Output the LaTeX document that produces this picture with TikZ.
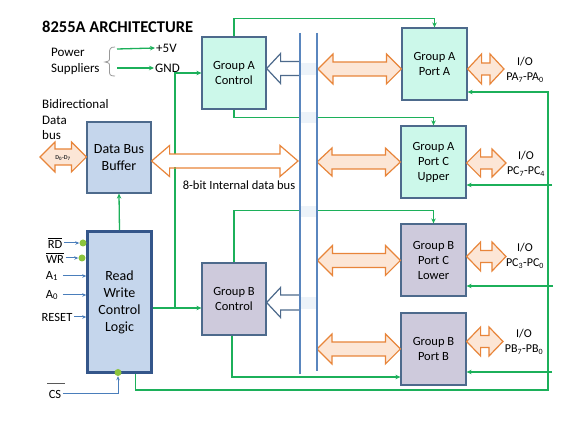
\documentclass[tikz,border=0pt]{standalone}
\usepackage{fontspec}
\setmainfont{Carlito}
\usetikzlibrary{arrows.meta,calc}
\definecolor{gline}{HTML}{1CB05A}
\definecolor{boxline}{HTML}{4D6A8C}
\definecolor{rwline}{HTML}{34568A}
\definecolor{mint}{HTML}{CCF8EA}
\definecolor{lav}{HTML}{CECADC}
\definecolor{dbbfill}{HTML}{C5D6EC}
\definecolor{orng}{HTML}{E8853A}
\definecolor{orfill}{HTML}{FCE6D6}
\definecolor{busline}{HTML}{5A86BE}
\definecolor{inarrow}{HTML}{4A7EBB}
\definecolor{dotc}{HTML}{8CC43C}
\definecolor{patch}{HTML}{EDF3F9}
\newcommand\fatdouble[6]{% A B headlen headhalf shafthalf style
\path[#6] (#1) -- ($(#1)+(#3,-#4)$) -- ($(#1)+(#3,-#5)$) -- ($(#2)+(-#3,-#5)$) -- ($(#2)+(-#3,-#4)$) -- (#2) -- ($(#2)+(-#3,#4)$) -- ($(#2)+(-#3,#5)$) -- ($(#1)+(#3,#5)$) -- ($(#1)+(#3,#4)$) -- cycle;}
\tikzset{
  box/.style={draw=boxline, line width=1.2pt, align=center, inner sep=0pt,
    font=\fontsize{12.5}{15}\selectfont},
  bigtext/.style={font=\fontsize{14}{17}\selectfont},
  gl/.style={draw=gline, line width=1.3pt},
  garr/.style={gl, -{Stealth[length=5pt,width=4.5pt]}},
  barr/.style={draw=inarrow, line width=1pt, -{Stealth[length=4pt,width=3.5pt]}},
  fatar/.style={draw=orng, fill=orfill, line width=1.2pt, line join=miter},
  hollow/.style={draw=boxline, fill=white, line width=1.2pt, line join=miter},
  lbl/.style={inner sep=1.5pt, font=\fontsize{12.5}{15}\selectfont, align=center},
  dotn/.style={circle, fill=dotc, inner sep=0pt, minimum size=7pt},
  busl/.style={draw=busline, line width=1.4pt}
}
\begin{document}
\begin{tikzpicture}[x=1pt,y=-1pt]
\useasboundingbox (0,0) rectangle (582,422);
\fill[white] (0,0) rectangle (582,422);

% title and labels
\node[anchor=west, inner sep=0pt, font=\bfseries\fontsize{16.5}{18}\selectfont] (title) at (42,27) {8255A ARCHITECTURE};
\node[anchor=west, inner sep=0pt, align=left, font=\fontsize{13}{16}\selectfont] (ps) at (51,61) {Power\\Suppliers};
\node[anchor=west, inner sep=1pt, font=\fontsize{13}{15}\selectfont] (v5) at (155,48) {+5V};
\node[anchor=west, inner sep=1pt, font=\fontsize{13}{15}\selectfont] (gnd) at (154,68) {GND};
\node[anchor=west, inner sep=0pt, align=left, font=\fontsize{13}{15.5}\selectfont] (bid) at (42,120) {Bidirectional\\Data\\bus};
\node[lbl] (ibus) at (239,185) {8-bit Internal data bus};

% brace
\draw[draw=gray!80, line width=0.8pt] (115,47) .. controls (110,47) and (109.5,49) .. (109.5,53) -- (109.5,57) .. controls (109.5,61) .. (105,62) .. controls (109.5,63) .. (109.5,67) -- (109.5,71) .. controls (109.5,75) and (110,76) .. (115,76);

% boxes
\node[box, fill=mint, minimum width=64pt, minimum height=72pt] (gac) at (234,73) {Group A\\Control};
\node[box, bigtext, fill=dbbfill, minimum width=64pt, minimum height=71pt] (dbb) at (119,157.5) {Data Bus\\Buffer};
\node[box, bigtext, fill=dbbfill, draw=rwline, line width=2.6pt, minimum width=64pt, minimum height=141pt] (rw) at (119.5,302) {Read\\Write\\Control\\Logic};
\node[box, fill=lav, minimum width=64pt, minimum height=72pt] (gbc) at (234,299) {Group B\\Control};
\node[box, fill=mint, minimum width=65pt, minimum height=72pt] (pa) at (434.5,64) {Group A\\Port A};
\node[box, fill=mint, minimum width=65pt, minimum height=72pt] (pcu) at (433.5,162) {Group A\\Port C\\Upper};
\node[box, fill=lav, minimum width=65pt, minimum height=72pt] (pcl) at (433.5,260) {Group B\\Port C\\Lower};
\node[box, fill=lav, minimum width=65pt, minimum height=72pt] (pb) at (433.5,349) {Group B\\Port B};

% I/O labels
\node[lbl, font=\fontsize{12}{15}\selectfont] (ioa) at (525,69.5) {I/O\\PA\textsubscript{7}-PA\textsubscript{0}};
\node[lbl, font=\fontsize{12}{15}\selectfont] (iocu) at (526,164) {I/O\\PC\textsubscript{7}-PC\textsubscript{4}};
\node[lbl, font=\fontsize{12}{15}\selectfont] (iocl) at (525,256) {I/O\\PC\textsubscript{3}-PC\textsubscript{0}};
\node[lbl, font=\fontsize{12}{15}\selectfont] (iob) at (524,342) {I/O\\PB\textsubscript{7}-PB\textsubscript{0}};

% input labels
\node[lbl] (rd) at (55,243) {$\overline{\mbox{RD}}$};
\node[lbl] (wr) at (55,258) {$\overline{\mbox{WR}}$};
\node[lbl] (a1) at (52,276) {A\textsubscript{1}};
\node[lbl] (a0) at (52,295) {A\textsubscript{0}};
\node[lbl] (rst) at (57,317) {RESET};
\node[lbl] (cs) at (55,394) {CS};
\draw[draw=gray!70!black, line width=0.8pt] (47,383) -- (65,383);

% green connectors
\coordinate (p5) at (117,49);
\coordinate (pg) at (117,68);
\draw[garr] (p5) -- (v5.west);
\draw[garr] (pg) -- (gnd.west);
\draw[garr] (gac.north) -- ++(0,-18) -| (pa.north);
\draw[garr] (gac.south) -- ++(0,8) -| (pcu.north);
\draw[garr] (gbc.north) -- ++(0,-52) -| (pcl.north);
\draw[garr] ([xshift=-2pt]gbc.south) |- ([yshift=-28pt]pb.west);
\coordinate (j) at (175,308);
\draw[garr] (rw.east |- j) -- (gbc.west |- j);
\draw[garr] (j) |- (gac.west);
\draw[garr] (rw.north) -- (dbb.south);
\coordinate (loopR) at (548,390);
\draw[garr] ([xshift=16pt]rw.south) |- (loopR) |- ([yshift=-28pt]pa.east);
\coordinate (bC) at (552,185);
\coordinate (bL) at (553,286);
\coordinate (bB) at (552,372);
\draw[garr] (bC) -- (pcu.east |- bC);
\draw[garr] (bL) -- (pcl.east |- bL);
\draw[garr] (bB) -- (pb.east |- bB);

% input arrows and dots
\node[dotn] (drd) at (83,243) {};
\node[dotn] (dwr) at (82,258) {};
\node[dotn] (dcs) at (118,372.5) {};
\draw[barr] (rd.east) -- (drd.west);
\draw[barr] (wr.east) -- (dwr.west);
\draw[barr] ([xshift=3pt]a1.east) -- (rw.west |- a1);
\draw[barr] ([xshift=3pt]a0.east) -- (rw.west |- a0);
\draw[barr] (rst.east) -- (rw.west |- rst);
\draw[barr] (cs.east) -| (dcs.south);

% data bus arrows
\coordinate (d0) at (40,157);
\fatdouble{d0}{dbb.west |- d0}{15}{15}{8}{fatar}
\node[inner sep=0pt, font=\bfseries\fontsize{6}{7}\selectfont, text=black!80] (dlab) at (63,158) {D\textsubscript{0}-D\textsubscript{7}};
\coordinate (ib) at (298,161);
\fill[white] (171,154.5) rectangle (179,167.5);
\fatdouble{dbb.east |- ib}{ib}{18}{15.5}{7}{draw=orng, line width=1.2pt, line join=miter}

% port arrows
\coordinate (bA) at (318,69);
\coordinate (bCu) at (317,162);
\coordinate (bCl) at (317.5,260.5);
\coordinate (bPB) at (317,349);
\fatdouble{bA}{pa.west |- bA}{15}{15}{7}{fatar}
\fatdouble{bCu}{pcu.west |- bCu}{15}{14}{7}{fatar}
\fatdouble{bCl}{pcl.west |- bCl}{15}{15}{7}{fatar}
\fatdouble{bPB}{pb.west |- bPB}{15}{15}{7}{fatar}

% I/O arrows
\coordinate (oA) at (504,69);
\coordinate (oCu) at (506,163);
\coordinate (oCl) at (506,256.5);
\coordinate (oB) at (503,341.5);
\fatdouble{pa.east |- oA}{oA}{14}{15}{6}{fatar}
\fatdouble{pcu.east |- oCu}{oCu}{14}{14}{6}{fatar}
\fatdouble{pcl.east |- oCl}{oCl}{14}{14.5}{6}{fatar}
\fatdouble{pb.east |- oB}{oB}{14}{14.5}{6}{fatar}

% hollow control arrows
\coordinate (ca) at (300,68.5);
\coordinate (cb) at (300,302.5);
\draw[hollow] ($(ca)+(0,-7)$) -- ($(gac.east |- ca)+(14,-7)$) -- ($(gac.east |- ca)+(14,-15)$) -- (gac.east |- ca) -- ($(gac.east |- ca)+(14,15)$) -- ($(gac.east |- ca)+(14,7)$) -- ($(ca)+(0,7)$);
\draw[hollow] ($(cb)+(0,-7.5)$) -- ($(gbc.east |- cb)+(14,-7.5)$) -- ($(gbc.east |- cb)+(14,-15)$) -- (gbc.east |- cb) -- ($(gbc.east |- cb)+(14,15)$) -- ($(gbc.east |- cb)+(14,7.5)$) -- ($(cb)+(0,7.5)$);

% bus crossing patches
\fill[patch] (300.5,112) rectangle (316.5,123);
\fill[patch] (300.5,206) rectangle (316.5,217);
\fill[patch] (300.5,63) rectangle (316.5,75);
\fill[patch] (300.5,297) rectangle (316.5,309);

% vertical bus lines
\coordinate (busAt) at (300,33);
\coordinate (busAb) at (300,374);
\coordinate (busBt) at (317,33);
\coordinate (busBb) at (317,371);
\draw[busl] (busAt) -- (busAb);
\draw[busl] (busBt) -- (busBb);
\end{tikzpicture}
\end{document}
